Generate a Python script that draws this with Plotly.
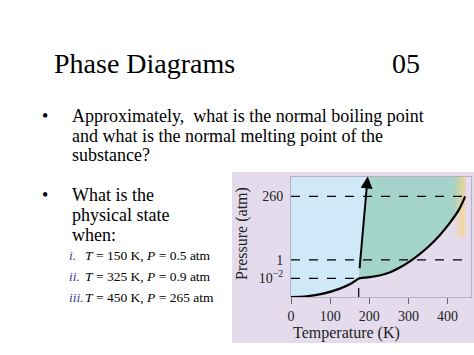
import plotly.graph_objects as go

# ---- data (pressure axis is schematic: positions on 0-100 scale) ----
subl_T = [0, 40, 82, 125, 150, 173]
subl_P = [0, 0.6, 2.8, 7.0, 10.6, 15.6]

vap_T = [173, 201, 226, 252, 277, 302, 328, 353, 379, 404, 430, 445]
vap_P = [15.6, 16.5, 17.9, 20.4, 24.3, 29.3, 35.5, 42.5, 51.1, 60.9, 73.2, 83.8]

melt_T = [173, 196]
melt_P = [15.6, 100.5]

p_tick_pos = [15.6, 31, 83.8]
p_tick_text = ["10<sup>−2</sup>", "1", "260"]
t_tick_vals = [0, 100, 200, 300, 400]
t_tick_text = ["0", "100", "200", "300", "400"]

title_text = "Phase Diagrams"
slide_no = "05"
bullet1 = ["Approximately,  what is the normal boiling point",
           "and what is the normal melting point of the",
           "substance?"]
bullet2 = ["What is the", "physical state", "when:"]
items_num = ["i.", "ii.", "iii."]
items_txt = ["<i>T</i> = 150 K, <i>P</i> = 0.5 atm",
             "<i>T</i> = 325 K, <i>P</i> = 0.9 atm",
             "<i>T</i> = 450 K, <i>P</i> = 265 atm"]

W, H = 474, 355
SERIF = "Liberation Serif, Times New Roman, serif"
BLUE = "#cfe9f8"
TEAL = "#a4d3ca"
ORANGE = "#f9d48a"
LAV = "#e4dcec"

def px(x):
    return x / W

def py(y):
    return (H - y) / H

XMAX, YMAX = 460, 100
fig = go.Figure()

# melting line top where it meets the plot top
mt = melt_T[0] + (melt_T[1] - melt_T[0]) * (YMAX - melt_P[0]) / (melt_P[1] - melt_P[0])

# solid region
fig.add_trace(go.Scatter(x=subl_T + [mt, 0], y=subl_P + [YMAX, YMAX], fill="toself",
                         fillcolor=BLUE, line=dict(width=0), mode="lines", hoverinfo="skip"))
# liquid region
liq_x = [melt_T[0], mt, vap_T[-1], vap_T[-1]] + vap_T[::-1]
liq_y = [melt_P[0], YMAX, YMAX, vap_P[-1]] + vap_P[::-1]
fig.add_trace(go.Scatter(x=liq_x, y=liq_y, fill="toself", fillcolor=TEAL,
                         line=dict(width=0), mode="lines", hoverinfo="skip"))
# supercritical fade (teal -> orange)
edges = [417, 424, 431, 438, 445]
for i in range(4):
    a = 0.2 + 0.2 * i
    fig.add_trace(go.Scatter(x=[edges[i], edges[i + 1], edges[i + 1], edges[i]],
                             y=[50, 50, YMAX, YMAX], fill="toself",
                             fillcolor=f"rgba(249,212,138,{a})", line=dict(width=0),
                             mode="lines", hoverinfo="skip"))

# dashed guide lines
dash = dict(color="black", width=1.2, dash="dash")
fig.add_trace(go.Scatter(x=[0, vap_T[-1]], y=[p_tick_pos[2]] * 2, mode="lines", line=dash, hoverinfo="skip"))
fig.add_trace(go.Scatter(x=[0, XMAX], y=[p_tick_pos[1]] * 2, mode="lines", line=dash, hoverinfo="skip"))
fig.add_trace(go.Scatter(x=[0, subl_T[-1]], y=[p_tick_pos[0]] * 2, mode="lines", line=dash, hoverinfo="skip"))
fig.add_trace(go.Scatter(x=[subl_T[-1]] * 2, y=[0, subl_P[-1]], mode="lines", line=dash, hoverinfo="skip"))

# phase boundaries
fig.add_trace(go.Scatter(x=subl_T, y=subl_P, mode="lines", line=dict(color="black", width=2.2, shape="spline"), hoverinfo="skip"))
fig.add_trace(go.Scatter(x=vap_T, y=vap_P, mode="lines", line=dict(color="black", width=2.2, shape="spline"), hoverinfo="skip"))
fig.add_annotation(x=melt_T[1], y=melt_P[1], ax=melt_T[0], ay=melt_P[0], xref="x", yref="y",
                   axref="x", ayref="y", showarrow=True, arrowhead=2, arrowsize=1.2,
                   arrowwidth=2, arrowcolor="black", text=" ")

# lavender panel
fig.add_shape(type="rect", xref="paper", yref="paper", x0=px(232), x1=1, y0=py(343), y1=py(172),
              fillcolor=LAV, line=dict(width=0), layer="below")

fig.update_layout(
    width=W, height=H, margin=dict(l=0, r=0, t=0, b=0, pad=0, autoexpand=False),
    paper_bgcolor="white", plot_bgcolor=ORANGE, showlegend=False,
    xaxis=dict(domain=[px(291), px(471)], range=[0, XMAX], tickvals=t_tick_vals, ticktext=t_tick_text,
               ticks="outside", ticklen=6, tickcolor="#666", showgrid=False, zeroline=False,
               showline=True, linecolor="#b8b0c0", linewidth=1, mirror=True, automargin=False,
               tickfont=dict(family=SERIF, size=14, color="#222")),
    yaxis=dict(domain=[py(297), py(177)], range=[0, YMAX], tickvals=p_tick_pos, ticktext=p_tick_text,
               ticks="outside", ticklen=4, tickcolor="rgba(0,0,0,0)", showgrid=False, zeroline=False,
               showline=True, linecolor="#b8b0c0", linewidth=1, mirror=True, automargin=False,
               tickfont=dict(family=SERIF, size=14, color="#222")),
)

def txt(x, y, s, size, color="black", xanchor="left", angle=0):
    fig.add_annotation(x=px(x), y=py(y), xref="paper", yref="paper", text=s, xanchor=xanchor,
                       yanchor="middle", textangle=angle, showarrow=False,
                       font=dict(family=SERIF, size=size, color=color))

# axis titles
txt(346, 333, "Temperature (K)", 16, "#222", "center")
txt(242, 234, "Pressure (atm)", 16, "#222", "center", -90)

# slide text
txt(52, 64, title_text, 28)
txt(422, 64, slide_no, 28, xanchor="right")

txt(40, 116, "•", 18)
for i, line in enumerate(bullet1):
    txt(70, 116 + 19.5 * i, line, 18)
txt(40, 195, "•", 18)
for i, line in enumerate(bullet2):
    txt(70, 195 + 20 * i, line, 18)
for i, (n, t) in enumerate(zip(items_num, items_txt)):
    yy = 256 + 20.5 * i
    txt(67, yy, f"<i>{n}</i>", 13.5, "#3a3a8e")
    txt(83, yy, t, 13.5)

fig.write_html("out.html", config={"displayModeBar": False},
               post_script="document.body.style.margin='0';document.body.style.overflow='hidden';")
